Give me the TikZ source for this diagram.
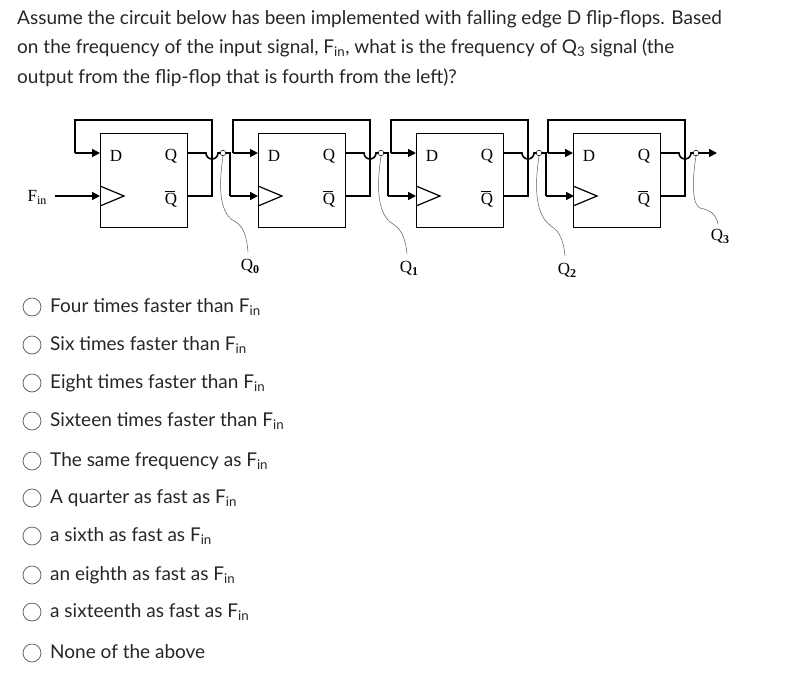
\documentclass[tikz,border=0pt]{standalone}
\usepackage{fontspec}
\setmainfont{Lato}
\newfontfamily\ser{Liberation Serif}
\usetikzlibrary{arrows.meta}
\newcommand\qbarx{\rlap{\raisebox{12pt}{\rule{10pt}{1.3pt}}}Q}
\begin{document}
\begin{tikzpicture}[x=1pt,y=-1pt,
  wire/.style={line width=1.6pt},
  arr/.style={wire,-{Triangle[length=8pt,width=8pt]}},
  lead/.style={gray!70!black,line width=0.5pt},
  txt/.style={anchor=base west,inner sep=0,font=\fontsize{19}{22}\selectfont,text=black!85},
  opt/.style={draw=black!60,line width=0.8pt,circle,minimum size=18pt,inner sep=0},
  lab/.style={font=\ser\fontsize{17}{19}\selectfont,inner sep=0}]
\useasboundingbox (0,0) rectangle (785,681);
\node[txt] (l1) at (17,24) {Assume the circuit below has been implemented with falling edge D flip-flops. Based};
\node[txt] (l2) at (17,53) {on the frequency of the input signal, F\textsubscript{in}, what is the frequency of Q\textsubscript{3} signal (the};
\node[txt] (l3) at (17,83) {output from the flip-flop that is fourth from the left)?};
\foreach \i/\x in {0/100,1/258,2/416,3/573}{
  \node[draw,line width=1.4pt,minimum width=87pt,minimum height=94pt,anchor=north west,inner sep=0] (ff\i) at (\x,133) {};
  \node[lab] (d\i) at (\x+16,156) {D};
  \node[lab] (q\i) at (\x+71,156) {Q};
  \node[lab] (qb\i) at (\x+71,199) {\qbarx};
  \draw[line width=1.2pt] (\x,186) -- (\x+24,196) -- (\x,206);
  \draw[wire] (\x+87,196) -| (\x+112,120) -| (\x-25,153);
  \draw[arr] (\x-25,153) -- (\x,153);
  \draw[wire] (\x+87,153) -- (\x+106,153) arc[start angle=180,end angle=0,radius=6] -- (\x+128,153);
  \draw[line width=0.5pt,fill=white] (\x+123,153) circle (2.8);
}
\foreach \i/\x in {0/100,1/258,2/416}{
  \draw[wire] (\x+128,153) -- (\x+130,153) -- (\x+130,196);
  \draw[arr] (\x+130,196) -- (\x+158,196);
}
\draw[arr] (701,153) -- (717,153);
\node[lab] (fin) at (37,197) {F{\fontsize{12}{12}\selectfont\raisebox{-3pt}{in}}};
\draw[arr] (55,196) -- (100,196);
\node[lab] (Q0) at (250,266) {Q{\fontsize{12}{12}\selectfont\raisebox{-3pt}{\textbf{0}}}};
\node[lab] (Q1) at (409,268) {Q{\fontsize{12}{12}\selectfont\raisebox{-3pt}{\textbf{1}}}};
\node[lab] (Q2) at (567,270) {Q{\fontsize{12}{12}\selectfont\raisebox{-3pt}{\textbf{2}}}};
\node[lab] (Q3) at (720,236) {Q{\fontsize{12}{12}\selectfont\raisebox{-3pt}{\textbf{3}}}};
\draw[lead] (223,156) .. controls (218,190) and (220,215) .. (236,222) .. controls (245,228) and (247,240) .. (248,252);
\draw[lead] (381,156) .. controls (376,190) and (378,215) .. (393,224) .. controls (403,230) and (406,242) .. (407,254);
\draw[lead] (539,156) .. controls (534,190) and (536,215) .. (551,226) .. controls (561,232) and (564,244) .. (565,256);
\draw[lead] (696,156) .. controls (692,180) and (692,205) .. (700,208) .. controls (710,210) and (716,214) .. (718,224);
\foreach \y/\t [count=\n] in {
 312/Four times faster than F\textsubscript{in},
 350/Six times faster than F\textsubscript{in},
 388/Eight times faster than F\textsubscript{in},
 426/Sixteen times faster than F\textsubscript{in},
 466/The same frequency as F\textsubscript{in},
 503/A quarter as fast as F\textsubscript{in},
 541/a sixth as fast as F\textsubscript{in},
 580/an eighth as fast as F\textsubscript{in},
 617/a sixteenth as fast as F\textsubscript{in},
 658/None of the above}{
  \node[opt] (c\n) at (32,\y-5) {};
  \node[txt] (o\n) at (50,\y) {\t};
}
\end{tikzpicture}
\end{document}
